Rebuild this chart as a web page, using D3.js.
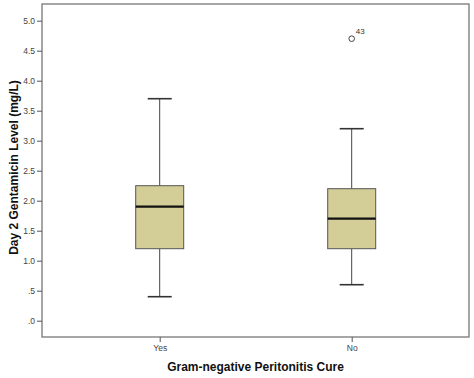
<!DOCTYPE html>
<html><head><meta charset="utf-8">
<script src="https://cdn.jsdelivr.net/npm/d3@7"></script>
<style>body{margin:0;background:#fff;} text{font-family:"Liberation Sans",Arial,sans-serif;}</style>
</head><body>
<svg id="chart" width="474" height="378"></svg>
<script>
const categories = ["Yes", "No"];
const whiskerLow = [0.4, 0.6];
const q1 = [1.2, 1.2];
const median = [1.9, 1.7];
const q3 = [2.25, 2.2];
const whiskerHigh = [3.7, 3.2];
const outlierCategory = ["No"];
const outlierValue = [4.7];
const outlierLabel = ["43"];
const yTicks = [0, 0.5, 1, 1.5, 2, 2.5, 3, 3.5, 4, 4.5, 5];
const yTickLabels = [".0", ".5", "1.0", "1.5", "2.0", "2.5", "3.0", "3.5", "4.0", "4.5", "5.0"];

const svg = d3.select("#chart");
const L = 42, R = 469, T = 4, B = 337;
const y = d3.scaleLinear().domain([0, 5]).range([320.7, 20.7]);
const x = d3.scalePoint().domain(categories).range([159.7, 351.7]);
const boxW = 48, capW = 24;

// frame
svg.append("rect").attr("x", L).attr("y", T).attr("width", R - L).attr("height", B - T)
  .attr("fill", "none").attr("stroke", "#777").attr("stroke-width", 1.3);

// y axis
const yAxis = d3.axisLeft(y).tickValues(yTicks).tickSize(5).tickPadding(2)
  .tickFormat((d, i) => yTickLabels[i]);
const gy = svg.append("g").attr("transform", `translate(${L},0)`).call(yAxis);
gy.select(".domain").remove();
gy.selectAll(".tick line").attr("stroke", "#555");
gy.selectAll(".tick text").attr("fill", "#444").style("font-size", "8.5px").style("font-family", "Liberation Sans, Arial, sans-serif");

// x axis
const xAxis = d3.axisBottom(x).tickSize(5).tickPadding(3);
const gx = svg.append("g").attr("transform", `translate(0,${B})`).call(xAxis);
gx.select(".domain").remove();
gx.selectAll(".tick line").attr("stroke", "#555");
gx.selectAll(".tick text").attr("fill", "#444").style("font-size", "8.5px").style("font-family", "Liberation Sans, Arial, sans-serif");

// boxes
categories.forEach((c, i) => {
  const cx = x(c);
  const g = svg.append("g");
  g.append("line").attr("x1", cx).attr("x2", cx).attr("y1", y(whiskerHigh[i])).attr("y2", y(q3[i])).attr("stroke", "#444").attr("stroke-width", 1);
  g.append("line").attr("x1", cx).attr("x2", cx).attr("y1", y(q1[i])).attr("y2", y(whiskerLow[i])).attr("stroke", "#444").attr("stroke-width", 1);
  g.append("line").attr("x1", cx - capW / 2).attr("x2", cx + capW / 2).attr("y1", y(whiskerHigh[i])).attr("y2", y(whiskerHigh[i])).attr("stroke", "#333").attr("stroke-width", 1.6);
  g.append("line").attr("x1", cx - capW / 2).attr("x2", cx + capW / 2).attr("y1", y(whiskerLow[i])).attr("y2", y(whiskerLow[i])).attr("stroke", "#333").attr("stroke-width", 1.6);
  g.append("rect").attr("x", cx - boxW / 2).attr("y", y(q3[i])).attr("width", boxW).attr("height", y(q1[i]) - y(q3[i]))
    .attr("fill", "#d3ce97").attr("stroke", "#555").attr("stroke-width", 1);
  g.append("line").attr("x1", cx - boxW / 2).attr("x2", cx + boxW / 2).attr("y1", y(median[i])).attr("y2", y(median[i])).attr("stroke", "#111").attr("stroke-width", 2.2);
});

// outliers
outlierValue.forEach((v, i) => {
  const cx = x(outlierCategory[i]);
  svg.append("circle").attr("cx", cx).attr("cy", y(v)).attr("r", 2.8).attr("fill", "none").attr("stroke", "#444").attr("stroke-width", 1);
  svg.append("text").attr("x", cx + 4).attr("y", y(v) - 5).text(outlierLabel[i]).attr("fill", "#333").style("font-size", "8px");
});

// axis titles
svg.append("text").attr("x", (L + R) / 2).attr("y", 371).attr("text-anchor", "middle")
  .attr("fill", "#111").style("font-size", "12px").style("font-weight", "bold").text("Gram-negative Peritonitis Cure");
svg.append("text").attr("transform", `translate(18,${(T + B) / 2 - 3}) rotate(-90)`).attr("text-anchor", "middle")
  .attr("fill", "#111").style("font-size", "12px").style("font-weight", "bold").text("Day 2 Gentamicin Level (mg/L)");
</script>
</body></html>
